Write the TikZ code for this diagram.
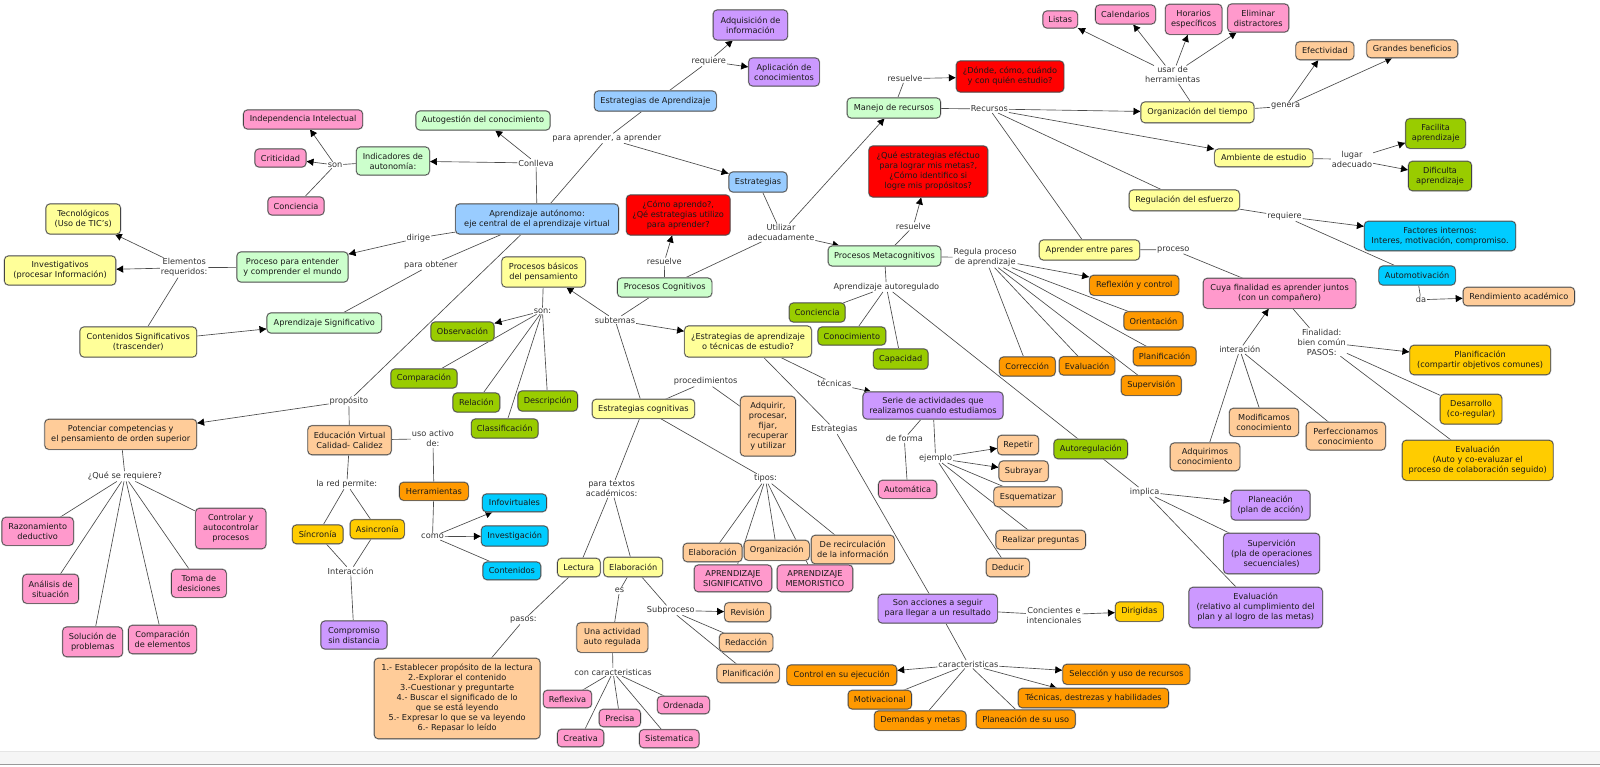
\documentclass[tikz,border=0pt]{standalone}
\usepackage{fontspec}
\setmainfont{DejaVu Sans}
\usetikzlibrary{arrows.meta,backgrounds}
\definecolor{cpink}{HTML}{FF99CC}
\definecolor{cmint}{HTML}{CCFFCC}
\definecolor{cyel}{HTML}{FFFF99}
\definecolor{cblue}{HTML}{99CCFF}
\definecolor{cpur}{HTML}{CC99FF}
\definecolor{cpeach}{HTML}{FFCC99}
\definecolor{colive}{HTML}{99CC00}
\definecolor{corange}{HTML}{FF9900}
\definecolor{cgold}{HTML}{FFCC00}
\definecolor{cred}{HTML}{FF0000}
\definecolor{ccyan}{HTML}{00CCFF}
\definecolor{cedge}{HTML}{444444}
\definecolor{chalo}{HTML}{AAAAAA}
\definecolor{ctext}{HTML}{1A1A1A}
\definecolor{clab}{HTML}{333333}
\definecolor{cline}{HTML}{4A4A4A}
\tikzset{
 box/.style={rectangle,rounded corners=4pt,preaction={draw=chalo,line width=1.7pt},draw=cedge,line width=0.6pt,align=center,inner sep=0pt,outer sep=0pt,text=ctext,font=\fontsize{8.2}{10}\selectfont},
 pink/.style={box,fill=cpink},
 mint/.style={box,fill=cmint},
 yel/.style={box,fill=cyel},
 blu/.style={box,fill=cblue},
 pur/.style={box,fill=cpur},
 peach/.style={box,fill=cpeach},
 olive/.style={box,fill=colive},
 ora/.style={box,fill=corange},
 gold/.style={box,fill=cgold},
 redb/.style={box,fill=cred},
 cyanb/.style={box,fill=ccyan},
 lbl/.style={rectangle,align=center,inner sep=1pt,outer sep=0pt,text=clab,font=\fontsize{8.2}{10}\selectfont},
 ln/.style={draw=cline,line width=0.65pt},
 ar/.style={draw=cline,line width=0.65pt,-{Latex[length=7.5pt,width=7.5pt,color=black]}},
}
\newcommand{\BX}[7]{\node[#2,minimum width={(#4-#3)*1pt},minimum height={(#6-#5)*1pt}] (#1) at ({(#3+#4)/2},{(#5+#6)/2}) {#7};}
\newcommand{\LP}[4]{\node[lbl] (#1) at (#2,#3) {#4};}
\begin{document}
\begin{tikzpicture}[x=1pt,y=-1pt]
\useasboundingbox (0,0) rectangle (1600,766);
% bottom bar
\fill[black!4] (0,751) rectangle (1600,764);
\draw[black!10,line width=0.6pt] (0,751) -- (1600,751);
\draw[black!40,line width=0.8pt] (0,764.3) -- (1600,764.3);
% nodes
\BX{indep}{pink}{243.5}{362.6}{110}{129}{Independencia Intelectual}
\BX{crit}{pink}{255}{306}{149}{167}{Criticidad}
\BX{conpink}{pink}{268}{324}{197}{215}{Conciencia}
\BX{indic}{mint}{356.4}{429.4}{147}{175}{Indicadores de\\autonomía:}
\BX{autog}{mint}{416}{550}{111}{130}{Autogestión del conocimiento}
\BX{apaut}{blu}{455.6}{618.5}{204}{234}{Aprendizaje autónomo:\\eje central de el aprendizaje virtual}
\BX{tecno}{yel}{46}{120.5}{204}{234}{Tecnológicos\\(Uso de TIC's)}
\BX{invest}{yel}{4.5}{115.7}{256}{285}{Investigativos\\(procesar Información)}
\BX{proc}{mint}{237}{348}{252}{282}{Proceso para entender\\y comprender el mundo}
\BX{contsig}{yel}{80}{196.6}{327}{357}{Contenidos Significativos\\(trascender)}
\BX{apsig}{mint}{267}{381.6}{313}{333}{Aprendizaje Significativo}
\BX{pbas}{yel}{501.8}{585.4}{257}{287}{Procesos básicos\\del pensamiento}
\BX{obs}{olive}{431}{494}{322}{341}{Observación}
\BX{comp}{olive}{391}{457}{369}{388}{Comparación}
\BX{rel}{olive}{453}{499.7}{393}{412}{Relación}
\BX{desc}{olive}{518}{577.5}{391}{411}{Descripción}
\BX{clas}{olive}{471.4}{538}{419}{438}{Classificación}
\BX{adq}{pur}{713.2}{787.6}{10}{40}{Adquisición de\\información}
\BX{apl}{pur}{748.7}{819.3}{58}{86}{Aplicación de\\conocimientos}
\BX{eap}{blu}{594.4}{716.3}{91}{111}{Estrategias de Aprendizaje}
\BX{estr}{blu}{729}{787}{172}{192}{Estrategias}
\BX{como}{redb}{626.4}{730}{195}{235}{¿Cómo aprendo?,\\¿Qé estrategias utilizo\\para aprender?}
\BX{pcog}{mint}{617.5}{711.8}{278}{297}{Procesos Cognitivos}
\BX{manejo}{mint}{847.2}{940.5}{98}{118}{Manejo de recursos}
\BX{donde}{redb}{956.3}{1063.8}{61}{92}{¿Dónde, cómo, cuándo\\y con quién estudio?}
\BX{quees}{redb}{868.9}{987.7}{146}{197}{¿Qué estrategias eféctuo\\para lograr mis metas?,\\¿Cómo identifico si\\logre mis propósitos?}
\BX{pmeta}{mint}{828.2}{940.8}{246}{266}{Procesos Metacognitivos}
\BX{congre}{olive}{789.3}{845}{303}{322}{Conciencia}
\BX{conoc}{olive}{818}{885.7}{327}{345}{Conocimiento}
\BX{capac}{olive}{873.4}{928}{349}{369}{Capacidad}
\BX{qest}{yel}{684.6}{811.4}{326}{357}{¿Estrategias de aprendizaje\\o técnicas de estudio?}
\BX{correc}{ora}{999.4}{1055.2}{357}{376}{Corrección}
\BX{apares}{yel}{1039.3}{1139.6}{240}{260}{Aprender entre pares}
\BX{listas}{pink}{1043}{1077.6}{11}{28}{Listas}
\BX{calen}{pink}{1095.5}{1155.4}{5}{24}{Calendarios}
\BX{horar}{pink}{1165.4}{1221.9}{4.3}{34.3}{Horarios\\específicos}
\BX{elim}{pink}{1227.7}{1288.7}{4}{32}{Eliminar\\distractores}
\BX{efect}{peach}{1295.9}{1353.8}{41.7}{59.7}{Efectividad}
\BX{grand}{peach}{1366.8}{1457.7}{40}{57.7}{Grandes beneficios}
\BX{orgt}{yel}{1141}{1253.9}{102}{122.7}{Organización del tiempo}
\BX{ambi}{yel}{1214.6}{1312.8}{149}{166.7}{Ambiente de estudio}
\BX{facil}{olive}{1405.7}{1465.6}{118.7}{148.3}{Facilita\\aprendizaje}
\BX{dific}{olive}{1408.5}{1471.5}{161.3}{190.7}{Dificulta\\aprendizaje}
\BX{regul}{yel}{1129.2}{1239.4}{190}{210.7}{Regulación del esfuerzo}
\BX{factor}{cyanb}{1364.4}{1515.6}{221.3}{250.7}{Factores internos:\\Interes, motivación, compromiso.}
\BX{autom}{cyanb}{1378.9}{1455.3}{266}{285}{Automotivación}
\BX{rendi}{peach}{1463.2}{1574.5}{287.3}{305.7}{Rendimiento académico}
\BX{cuya}{pink}{1203.3}{1355.8}{278.3}{308.3}{Cuya finalidad es aprender juntos\\(con un compañero)}
\BX{reflc}{ora}{1089.6}{1178.8}{275.3}{295.3}{Reflexión y control}
\BX{orien}{ora}{1124}{1183}{311.7}{330}{Orientación}
\BX{planor}{ora}{1133.3}{1196}{347}{365.7}{Planificación}
\BX{evalor}{ora}{1059.3}{1114.8}{356.7}{375}{Evaluación}
\BX{superv}{ora}{1121.3}{1181.2}{375.7}{395.3}{Supervisión}
\BX{plangold}{gold}{1409.9}{1550.4}{345.3}{374.7}{Planificación\\(compartir objetivos comunes)}
\BX{desar}{gold}{1440.2}{1501.8}{394.3}{424}{Desarrollo\\(co-regular)}
\BX{evalgold}{gold}{1402.3}{1553.1}{440.3}{480.3}{Evaluación\\(Auto y co-evaluzar el\\proceso de colaboración seguido)}
\BX{modif}{peach}{1229.4}{1298.6}{408.3}{436.3}{Modificamos\\conocimiento}
\BX{perf}{peach}{1306.2}{1385.4}{422.3}{450}{Perfeccionamos\\conocimiento}
\BX{adqui}{peach}{1170.2}{1239.8}{443}{470.7}{Adquirimos\\conocimiento}
\BX{autor}{olive}{1054}{1127.5}{439.3}{458.7}{Autoregulación}
\BX{planp}{pur}{1231.1}{1310}{490.3}{520}{Planeación\\(plan de acción)}
\BX{supvi}{pur}{1223.6}{1319.6}{533.3}{573.7}{Supervición\\(pla de operaciones\\secuenciales)}
\BX{evalp}{pur}{1189}{1322.4}{587.3}{627.7}{Evaluación\\(relativo al cumplimiento del\\plan y al logro de las metas)}
\BX{dirig}{gold}{1115.4}{1163.3}{602}{621.3}{Dirigidas}
\BX{selec}{ora}{1062.8}{1189.8}{664.3}{684.3}{Selección y uso de recursos}
\BX{tecni}{ora}{1018.3}{1168.5}{688.3}{707.7}{Técnicas, destrezas y habilidades}
\BX{planuso}{ora}{976.3}{1075.2}{710}{728.3}{Planeación de su uso}
\BX{poten}{peach}{44.8}{196.6}{419.3}{449.3}{Potenciar competencias y\\el pensamiento de orden superior}
\BX{razon}{pink}{2}{73.4}{517.3}{545.3}{Razonamiento\\deductivo}
\BX{anal}{pink}{22.7}{78.5}{574.3}{603.3}{Análisis de\\situación}
\BX{soluc}{pink}{62.7}{122.6}{627}{656.7}{Solución de\\problemas}
\BX{compel}{pink}{128.5}{196.6}{625.3}{653.7}{Comparación\\de elementos}
\BX{toma}{pink}{171.5}{226.3}{569.3}{597.3}{Toma de\\desiciones}
\BX{contr}{pink}{195.6}{265.9}{508.3}{548.7}{Controlar y\\autocontrolar\\procesos}
\BX{eduv}{peach}{307.9}{391.2}{425.7}{454.7}{Educación Virtual\\Calidad- Calidez}
\BX{sinc}{gold}{292.4}{343}{525}{543.7}{Síncronía}
\BX{asinc}{gold}{350.2}{404.3}{519.7}{538.7}{Asincronía}
\BX{compro}{pur}{321}{387}{621}{649}{Compromiso\\sin distancia}
\BX{herra}{ora}{399.5}{468.3}{482.3}{500.3}{Herramientas}
\BX{infov}{cyanb}{482.4}{546.5}{494}{511.7}{Infovirtuales}
\BX{inves}{cyanb}{481.4}{548}{526}{546}{Investigación}
\BX{contb}{cyanb}{483}{540.7}{562}{579.7}{Contenidos}
\BX{lista}{peach}{374.3}{540}{658.3}{738.7}{1.- Establecer propósito de la lectura\\2.-Explorar el contenido\\3.-Cuestionar y preguntarte\\4.- Buscar el significado de lo\\que se está leyendo\\5.- Expresar lo que se va leyendo\\6.- Repasar lo leído}
\BX{ecog}{yel}{592.3}{694.6}{399.3}{418.3}{Estrategias cognitivas}
\BX{adquirir}{peach}{740.4}{795.5}{396.3}{456}{Adquirir,\\procesar,\\fijar,\\recuperar\\y utilizar}
\BX{serie}{pur}{863}{1003}{392}{419}{Serie de actividades que\\realizamos cuando estudiamos}
\BX{repet}{peach}{997.6}{1038.6}{435.3}{454.7}{Repetir}
\BX{subr}{peach}{999}{1048.2}{461}{481.3}{Subrayar}
\BX{esque}{peach}{993.9}{1062}{487}{506.7}{Esquematizar}
\BX{realiz}{peach}{996}{1085.5}{530.3}{549.3}{Realizar preguntas}
\BX{deduc}{peach}{986.3}{1029.3}{558.3}{576.7}{Deducir}
\BX{autom2}{pink}{878.5}{936.7}{480.3}{498.3}{Automática}
\BX{elabo}{peach}{683.2}{742}{543.3}{561.7}{Elaboración}
\BX{organ}{peach}{744.2}{809.3}{540.3}{560.3}{Organización}
\BX{recir}{peach}{811.3}{894.3}{535.3}{563.7}{De recirculación\\de la información}
\BX{apsg}{pink}{694.3}{771.7}{565}{591.7}{APRENDIZAJE\\SIGNIFICATIVO}
\BX{apmm}{pink}{777.2}{852.7}{565}{591.7}{APRENDIZAJE\\MEMORISTICO}
\BX{lect}{yel}{557.5}{600.2}{558.3}{576.7}{Lectura}
\BX{elay}{yel}{603.7}{662.6}{557.3}{576.7}{Elaboración}
\BX{unaact}{peach}{576.8}{647.8}{622.7}{652.3}{Una actividad\\auto regulada}
\BX{revis}{peach}{724.6}{770.7}{602.7}{621.7}{Revisión}
\BX{redac}{peach}{719.4}{772.8}{633.3}{651.7}{Redacción}
\BX{planpe}{peach}{717}{779.3}{664.3}{682.7}{Planificación}
\BX{reflex}{pink}{543.4}{591.6}{690.3}{707.7}{Reflexiva}
\BX{orden}{pink}{657.4}{709.4}{696.3}{713.7}{Ordenada}
\BX{preci}{pink}{599.2}{640.5}{709.3}{726.7}{Precisa}
\BX{creat}{pink}{557.5}{603.7}{729.3}{746.7}{Creativa}
\BX{siste}{pink}{639.5}{699}{729.7}{747.7}{Sistematica}
\BX{sonacc}{pur}{878.1}{997.3}{594.3}{623}{Son acciones a seguir\\para llegar a un resultado}
\BX{control}{ora}{786.9}{896.7}{665}{685.3}{Control en su ejecución}
\BX{motiv}{ora}{848.2}{911.5}{690.3}{709}{Motivacional}
\BX{deman}{ora}{874.4}{966}{711}{730.3}{Demandas y metas}
% linking phrases
\LP{lson}{335}{165}{son}
\LP{lconl}{536}{163}{Conlleva}
\LP{lelem}{184.2}{267.7}{Elementos\\requeridos:}
\LP{ldir}{418.4}{238}{dirige}
\LP{lobt}{430.8}{265}{para obtener}
\LP{lsondos}{542.4}{311}{son:}
\LP{lpara}{606.8}{138.3}{para aprender, a aprender}
\LP{lreq}{708.7}{61.3}{requiere}
\LP{lresc}{664.3}{261.7}{resuelve}
\LP{lutil}{781}{232.7}{Utilizar\\adecuadamente}
\LP{lsubt}{615}{320}{subtemas}
\LP{lresm}{905}{78.7}{resuelve}
\LP{lrec}{989.4}{109}{Recursos}
\LP{lresq}{913.3}{226.3}{resuelve}
\LP{lreg}{985.2}{257.7}{Regula proceso\\de aprendizaje}
\LP{lauto}{886.4}{287}{Aprendizaje autoregulado}
\LP{lusar}{1172.6}{74.7}{usar de\\herramientas}
\LP{lgen}{1285.6}{106.3}{genera}
\LP{llug}{1352}{159.3}{lugar\\adecuado}
\LP{lreqd}{1284.5}{216.3}{requiere}
\LP{lpro}{1173.3}{249.7}{proceso}
\LP{lda}{1420.9}{299.7}{da}
\LP{linte}{1239.8}{349.7}{interación}
\LP{lfin}{1321.7}{342}{Finalidad:\\bien común\\PASOS:}
\LP{lprop}{348.8}{401}{propósito}
\LP{lque}{125}{476.3}{¿Qué se requiere?}
\LP{luso}{432.9}{438.7}{uso activo\\de:}
\LP{lred}{346.8}{484.3}{la red permite:}
\LP{lcomo}{432.5}{536.7}{como}
\LP{linter}{350.6}{571}{Interacción}
\LP{lpasos}{523.4}{620.3}{pasos:}
\LP{lpim}{705.6}{381.7}{procedimientos}
\LP{ltec}{834.4}{383.7}{técnicas}
\LP{lest}{834.4}{429.3}{Estrategias}
\LP{lforma}{904.3}{438.7}{de forma}
\LP{lej}{935.6}{458}{ejemplo}
\LP{ltipos}{765.5}{478.7}{tipos:}
\LP{ltext}{611.6}{488.7}{para textos\\académicos:}
\LP{les}{619.5}{590.7}{es}
\LP{lsubp}{670.8}{610.3}{Subproceso}
\LP{lcon}{613}{672}{con caracteristicas}
\LP{lcar}{968.4}{664.3}{caracteristicas}
\LP{lconc}{1054}{615}{Concientes e\\intencionales}
\LP{limp}{1144.7}{492}{implica}
% connectors
\begin{scope}[on background layer]
\draw[ln] (indic)--(lson) (lson)--(conpink);
\draw[ar] (lson)--(indep); \draw[ar] (lson)--(crit);
\draw[ln] (apaut)--(lconl);
\draw[ar] (lconl)--(autog); \draw[ar] (lconl)--(indic);
\draw[ln] (apaut)--(ldir); \draw[ar] (ldir)--(proc);
\draw[ln] (apaut)--(lobt) (lobt)--(apsig);
\draw[ar] (contsig)--(apsig);
\draw[ln] (proc)--(lelem) (lelem)--(contsig);
\draw[ar] (lelem)--(tecno); \draw[ar] (lelem)--(invest);
\draw[ln] (apaut)--(lprop) (lprop)--(eduv);
\draw[ar] (lprop)--(poten);
\draw[ln] (poten)--(lque) (lque)--(razon) (lque)--(anal) (lque)--(soluc) (lque)--(compel) (lque)--(toma) (lque)--(contr);
\draw[ln] (eduv)--(luso) (luso)--(herra);
\draw[ln] (eduv)--(lred) (lred)--(sinc) (lred)--(asinc);
\draw[ln] (sinc)--(linter) (asinc)--(linter) (linter)--(compro);
\draw[ln] (herra)--(lcomo) (lcomo)--(contb);
\draw[ar] (lcomo)--(infov); \draw[ar] (lcomo)--(inves);
\draw[ln] (apaut)--(lpara) (lpara)--(eap);
\draw[ar] (lpara)--(estr);
\draw[ln] (eap)--(lreq);
\draw[ar] (lreq)--(adq); \draw[ar] (lreq)--(apl);
\draw[ln] (estr)--(lutil) (pcog)--(lutil);
\draw[ar] (lutil)--(manejo); \draw[ar] (lutil)--(pmeta);
\draw[ln] (pcog)--(lresc); \draw[ar] (lresc)--(como);
\draw[ln] (pcog)--(lsubt) (lsubt)--(ecog);
\draw[ar] (lsubt)--(pbas); \draw[ar] (lsubt)--(qest);
\draw[ln] (pbas)--(lsondos) (lsondos)--(comp) (lsondos)--(rel) (lsondos)--(desc) (lsondos)--(clas);
\draw[ar] (lsondos)--(obs);
\draw[ln] (ecog)--(lpim) (lpim)--(adquirir);
\draw[ln] (qest)--(ltec); \draw[ar] (ltec)--(serie);
\draw[ln] (qest)--(lest) (lest)--(sonacc);
\draw[ln] (sonacc)--(lconc); \draw[ar] (lconc)--(dirig);
\draw[ln] (sonacc)--(lcar) (lcar)--(motiv) (lcar)--(deman) (lcar)--(planuso);
\draw[ar] (lcar)--(control); \draw[ar] (lcar)--(selec); \draw[ar] (lcar)--(tecni);
\draw[ln] (serie)--(lforma) (lforma)--(autom2);
\draw[ln] (serie)--(lej) (lej)--(esque) (lej)--(realiz) (lej)--(deduc);
\draw[ar] (lej)--(repet); \draw[ar] (lej)--(subr);
\draw[ln] (ecog)--(ltipos) (ltipos)--(elabo) (ltipos)--(organ) (ltipos)--(recir) (ltipos)--(apsg) (ltipos)--(apmm);
\draw[ln] (ecog)--(ltext) (ltext)--(lect) (ltext)--(elay);
\draw[ln] (lect)--(lpasos) (lpasos)--(lista);
\draw[ln] (elay)--(les) (les)--(unaact);
\draw[ln] (elay)--(lsubp) (lsubp)--(redac) (lsubp)--(planpe);
\draw[ar] (lsubp)--(revis);
\draw[ln] (unaact)--(lcon) (lcon)--(reflex) (lcon)--(preci) (lcon)--(creat) (lcon)--(siste) (lcon)--(orden);
\draw[ln] (manejo)--(lrec) (lrec)--(regul) (lrec)--(apares);
\draw[ar] (lrec)--(orgt); \draw[ar] (lrec)--(ambi);
\draw[ln] (manejo)--(lresm); \draw[ar] (lresm)--(donde);
\draw[ln] (pmeta)--(lresq); \draw[ar] (lresq)--(quees);
\draw[ln] (pmeta)--(lreg) (lreg)--(orien) (lreg)--(planor) (lreg)--(superv) (lreg)--(evalor) (lreg)--(correc);
\draw[ar] (lreg)--(reflc);
\draw[ln] (pmeta)--(lauto) (lauto)--(congre) (lauto)--(conoc) (lauto)--(capac) (lauto)--(autor);
\draw[ln] (orgt)--(lusar);
\draw[ar] (lusar)--(listas); \draw[ar] (lusar)--(calen); \draw[ar] (lusar)--(horar); \draw[ar] (lusar)--(elim);
\draw[ln] (orgt)--(lgen);
\draw[ar] (lgen)--(efect); \draw[ar] (lgen)--(grand);
\draw[ln] (ambi)--(llug);
\draw[ar] (llug)--(facil); \draw[ar] (llug)--(dific);
\draw[ln] (regul)--(lreqd) (lreqd)--(autom);
\draw[ar] (lreqd)--(factor);
\draw[ln] (autom)--(lda); \draw[ar] (lda)--(rendi);
\draw[ln] (apares)--(lpro) (lpro)--(cuya);
\draw[ln] (adqui)--(linte) (modif)--(linte) (perf)--(linte);
\draw[ar] (linte)--(cuya);
\draw[ln] (cuya)--(lfin) (lfin)--(desar) (lfin)--(evalgold);
\draw[ar] (lfin)--(plangold);
\draw[ln] (autor)--(limp) (limp)--(supvi) (limp)--(evalp);
\draw[ar] (limp)--(planp);
\end{scope}
\end{tikzpicture}
\end{document}
